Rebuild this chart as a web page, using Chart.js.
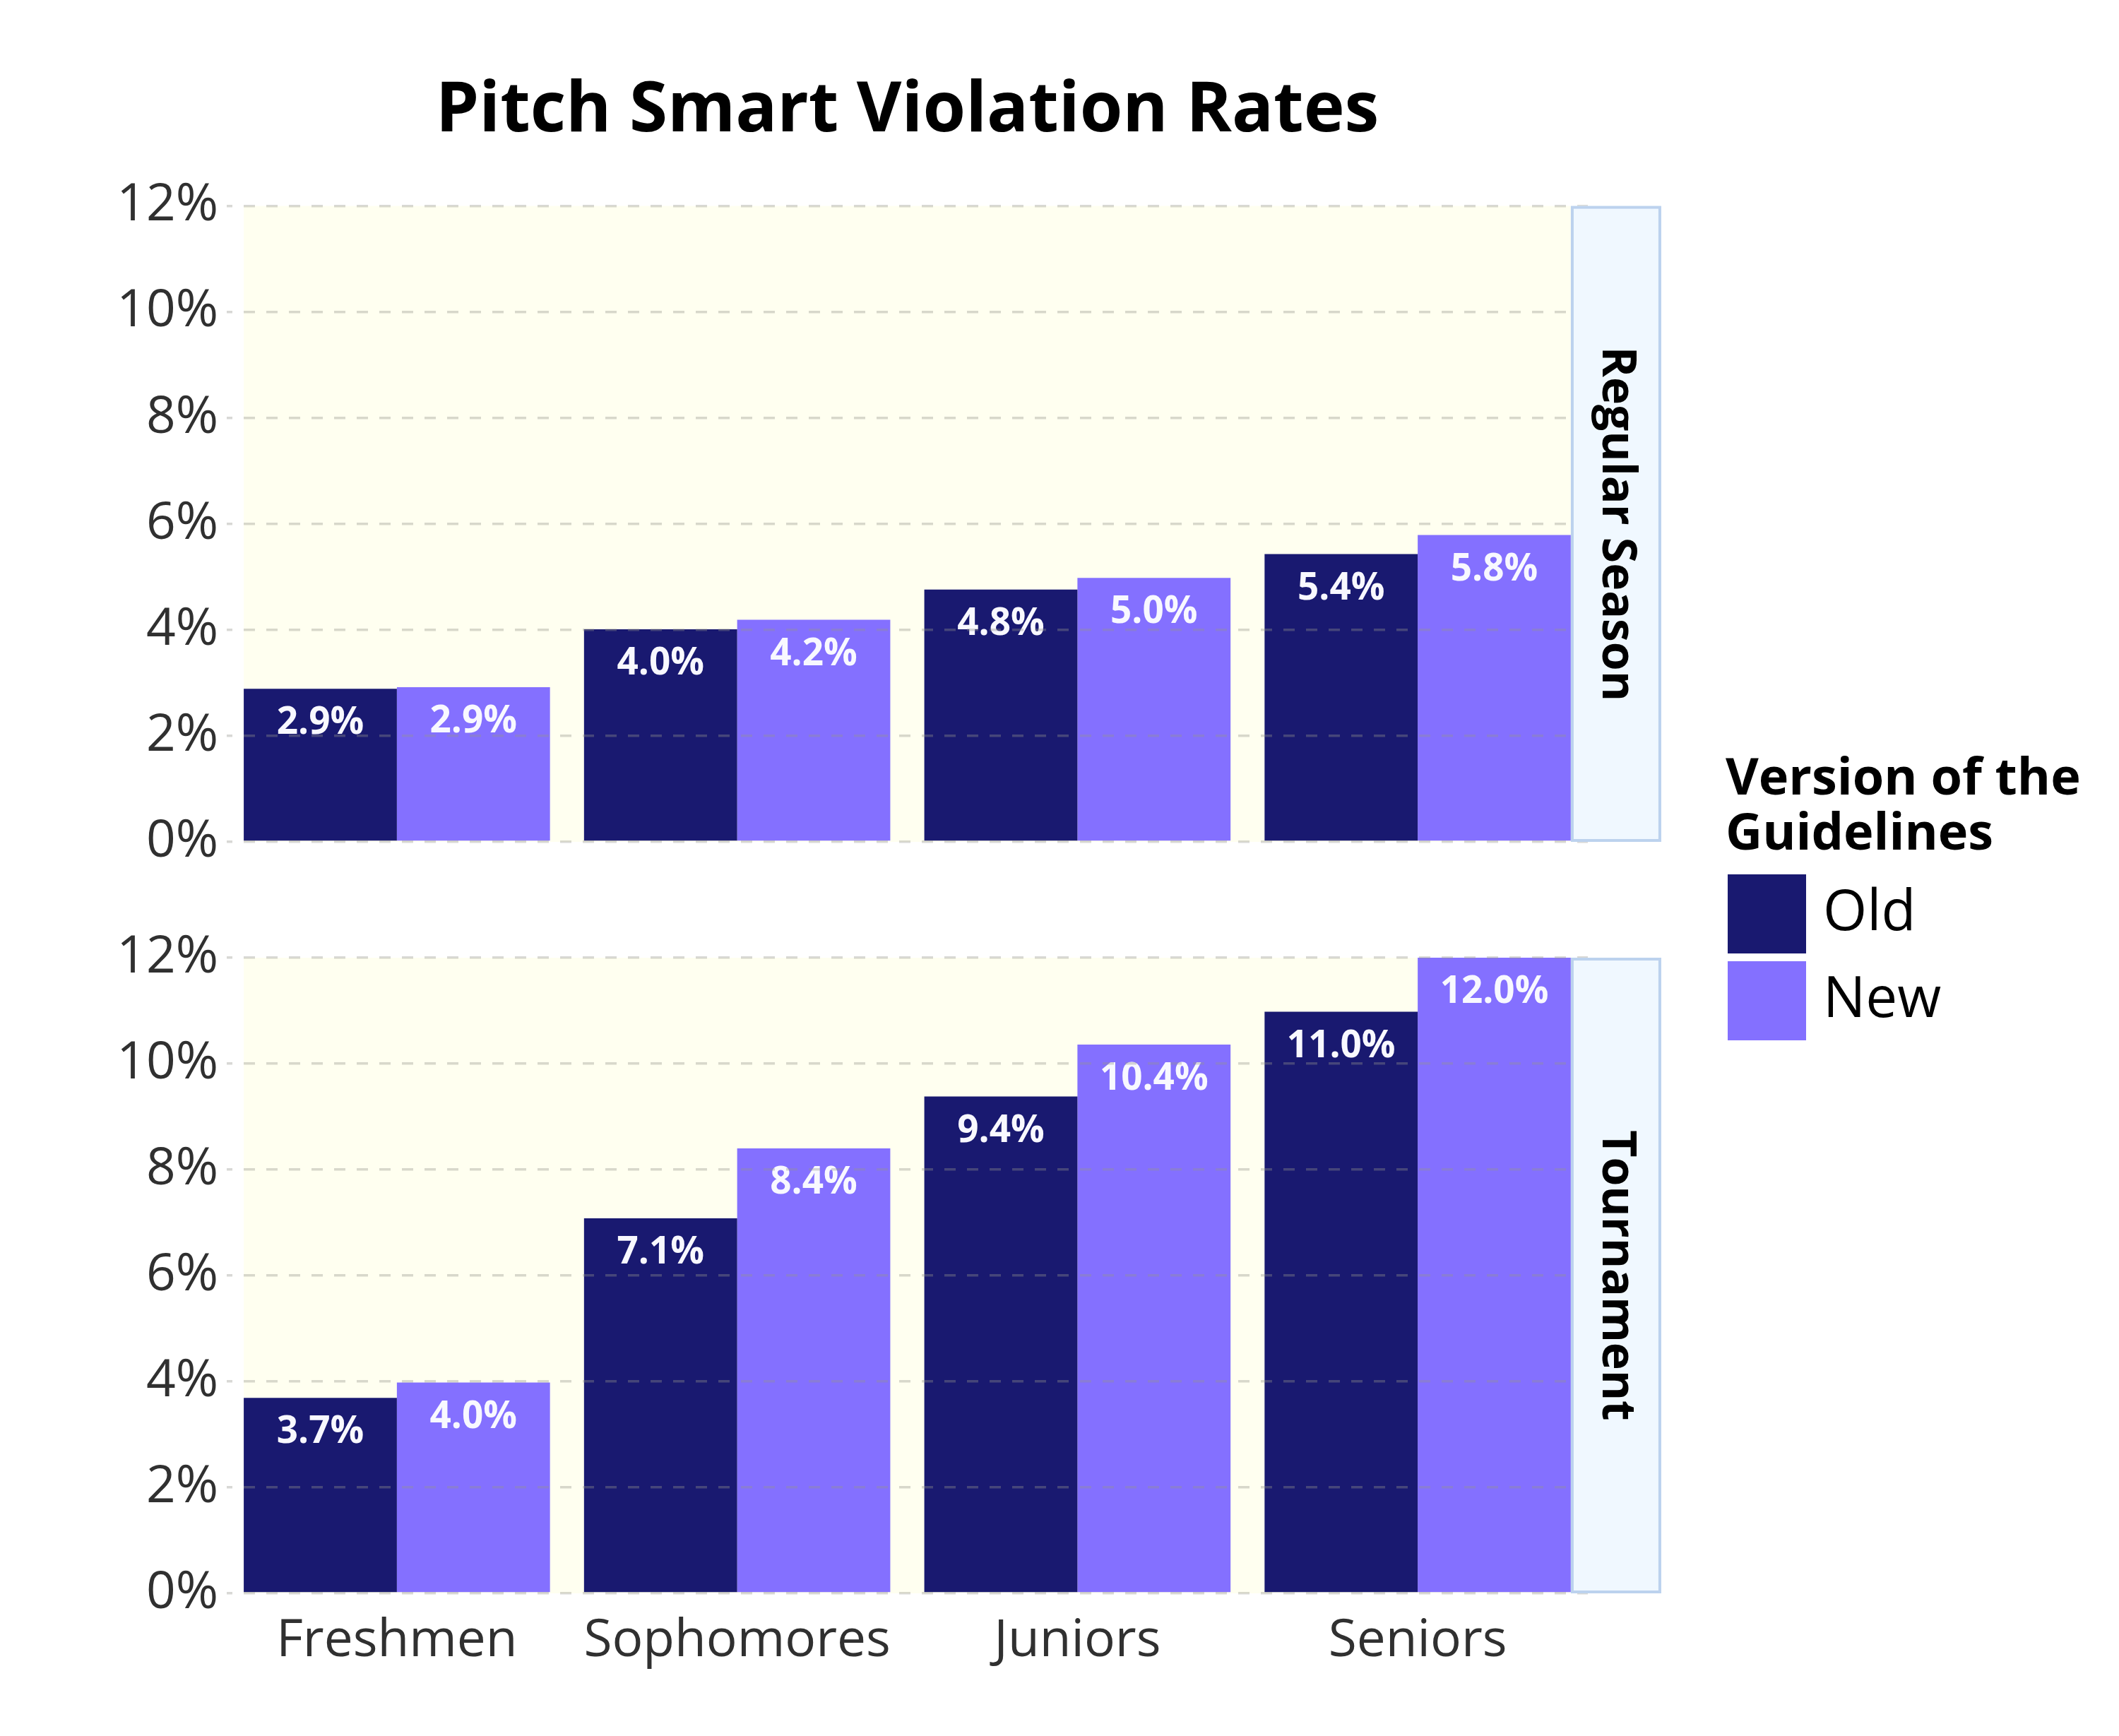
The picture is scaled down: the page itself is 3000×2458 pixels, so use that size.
<!DOCTYPE html>
<html>
<head>
<meta charset="utf-8">
<script src="https://cdn.jsdelivr.net/npm/chart.js@4.4.1/dist/chart.umd.min.js"></script>
<style>
  html, body { margin: 0; padding: 0; background: #fff; }
  #wrap { position: relative; width: 3000px; height: 2458px; }
  #wrap canvas { position: absolute; left: 0; top: 0; }
</style>
</head>
<body>
<div id="wrap">
  <canvas id="graficoRegular" width="3000" height="2458"></canvas>
  <canvas id="graficoTorneo" width="3000" height="2458"></canvas>
</div>
<script>
// data
const categories = ['Freshmen', 'Sophomores', 'Juniors', 'Seniors'];
const seriesNames = ['Old', 'New'];
const regularOld = [2.89, 4.01, 4.76, 5.43];
const regularNew = [2.92, 4.19, 4.98, 5.79];
const tournamentOld = [3.69, 7.08, 9.38, 10.98];
const tournamentNew = [3.98, 8.40, 10.36, 12.0];
const yTicks = [0, 2, 4, 6, 8, 10, 12];
const panelNames = ['Regular Season', 'Tournament'];
const chartTitle = 'Pitch Smart Violation Rates';
const legendTitle = ['Version of the', 'Guidelines'];

const colorOld = '#191970';
const colorNew = '#8470FF';
const FONT = "'Open Sans', 'Noto Sans', sans-serif";

Chart.defaults.font.family = FONT;

// ivory panel behind the bars + strip on the right
const panelPlugin = {
  id: 'panel',
  beforeDatasetsDraw(chart) {
    const { ctx, chartArea } = chart;
    const first = chart.getDatasetMeta(0).data[0];
    const lastMeta = chart.getDatasetMeta(chart.data.datasets.length - 1);
    const last = lastMeta.data[lastMeta.data.length - 1];
    const x0 = first.x - first.width / 2;
    const x1 = last.x + last.width / 2;
    ctx.save();
    ctx.fillStyle = '#FFFFF0';
    ctx.fillRect(x0, chartArea.top, x1 - x0, chartArea.bottom - chartArea.top);
    ctx.restore();
  },
  afterDatasetsDraw(chart) {
    // value labels inside the top of each bar
    const { ctx } = chart;
    ctx.save();
    ctx.font = `bold 53px ${FONT}`;
    ctx.fillStyle = '#F8F8FF';
    ctx.textAlign = 'center';
    ctx.textBaseline = 'middle';
    chart.data.datasets.forEach((ds, i) => {
      chart.getDatasetMeta(i).data.forEach((bar, j) => {
        ctx.fillText(ds.data[j].toFixed(1) + '%', bar.x, bar.y + 49);
      });
    });
    ctx.restore();
  },
  afterDraw(chart, args, opts) {
    const { ctx, chartArea } = chart;
    const lastMeta = chart.getDatasetMeta(chart.data.datasets.length - 1);
    const last = lastMeta.data[lastMeta.data.length - 1];
    const sx = last.x + last.width / 2;
    const sw = 128;
    const h = chartArea.bottom - chartArea.top;
    ctx.save();
    ctx.fillStyle = '#F0F8FF';
    ctx.fillRect(sx, chartArea.top, sw, h);
    ctx.strokeStyle = '#BCD2EE';
    ctx.lineWidth = 4;
    ctx.strokeRect(sx + 2, chartArea.top + 2, sw - 4, h - 4);
    ctx.translate(sx + sw / 2, chartArea.top + h / 2);
    ctx.rotate(Math.PI / 2);
    ctx.font = `bold 66px ${FONT}`;
    ctx.fillStyle = '#000';
    ctx.textAlign = 'center';
    ctx.textBaseline = 'middle';
    ctx.fillText(opts.label, 0, 0);
    ctx.restore();
  }
};

const legendPlugin = {
  id: 'guideLegend',
  afterDraw(chart) {
    const { ctx } = chart;
    ctx.save();
    ctx.fillStyle = '#000';
    ctx.font = `bold 72px ${FONT}`;
    ctx.textBaseline = 'alphabetic';
    ctx.fillText(legendTitle[0], 2443, 1125);
    ctx.fillText(legendTitle[1], 2443, 1203);
    ctx.font = `80px ${FONT}`;
    ctx.textBaseline = 'middle';
    chart.data.datasets.forEach((ds, i) => {
      const y = 1238 + i * 123;
      ctx.fillStyle = ds.backgroundColor;
      ctx.fillRect(2446, y, 111, 112);
      ctx.fillStyle = '#000';
      ctx.fillText(ds.label, 2581, y + 56);
    });
    ctx.restore();
  }
};

const crearOpciones = (panel, esInferior) => ({
  responsive: false,
  devicePixelRatio: 1,
  animation: false,
  events: [],
  layout: {
    padding: esInferior
      ? { left: 0, right: 752, top: 1356, bottom: 0 }
      : { left: 0, right: 752, top: 0, bottom: 1266 }
  },
  plugins: {
    legend: { display: false },
    tooltip: { enabled: false },
    title: {
      display: !esInferior,
      text: chartTitle,
      fullSize: false,
      color: '#000',
      font: { size: 98, weight: 'bold' },
      padding: { top: 99, bottom: 75 }
    },
    panel: { label: panel }
  },
  scales: {
    x: {
      display: esInferior,
      grid: { display: false },
      border: { display: false },
      ticks: { color: '#303030', font: { size: 73 }, padding: 16 },
      afterFit: (s) => { if (esInferior) s.height = 202; }
    },
    y: {
      min: 0,
      max: 12,
      afterBuildTicks: (s) => { s.ticks = yTicks.map(v => ({ value: v })); },
      afterFit: (s) => { s.width = 321; },
      grid: {
        z: 1,
        drawTicks: false,
        color: 'rgba(150,150,140,0.37)',
        lineWidth: 3.5
      },
      border: { display: false, dash: [16, 16], dashOffset: 8 },
      ticks: {
        color: '#303030',
        font: { size: 73 },
        padding: 12,
        callback: (v) => v + '%'
      }
    }
  }
});

const crearDatos = (viejo, nuevo) => ({
  labels: categories,
  datasets: [
    { label: seriesNames[0], data: viejo, backgroundColor: colorOld, categoryPercentage: 0.9, barPercentage: 1 },
    { label: seriesNames[1], data: nuevo, backgroundColor: colorNew, categoryPercentage: 0.9, barPercentage: 1 }
  ]
});

new Chart(document.getElementById('graficoRegular'), {
  type: 'bar',
  data: crearDatos(regularOld, regularNew),
  options: crearOpciones(panelNames[0], false),
  plugins: [panelPlugin]
});

new Chart(document.getElementById('graficoTorneo'), {
  type: 'bar',
  data: crearDatos(tournamentOld, tournamentNew),
  options: crearOpciones(panelNames[1], true),
  plugins: [panelPlugin, legendPlugin]
});
</script>
</body>
</html>
